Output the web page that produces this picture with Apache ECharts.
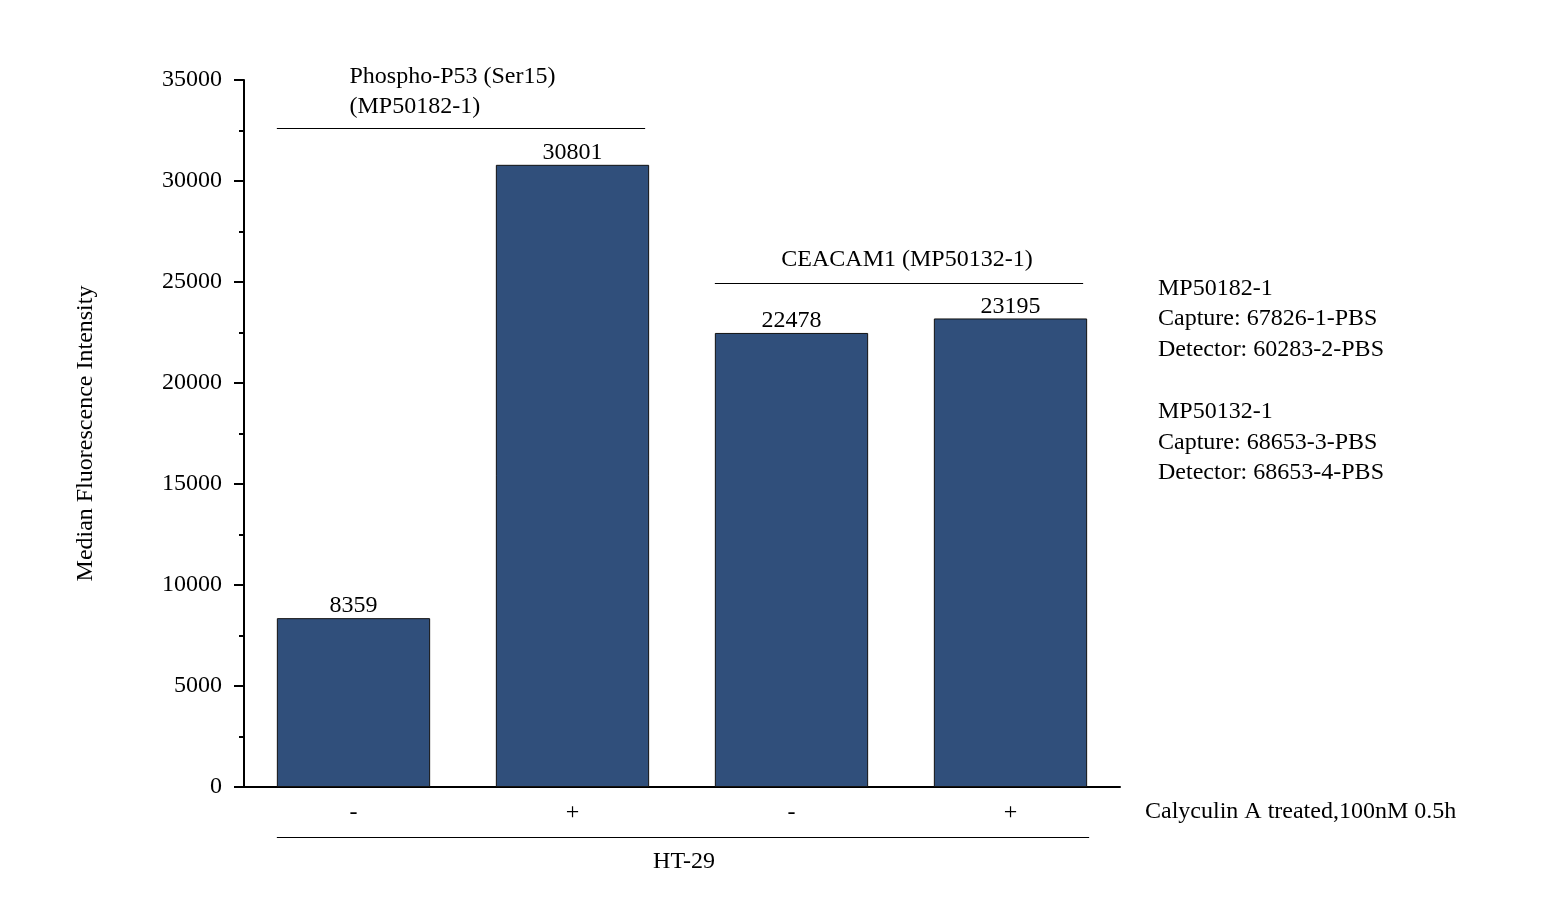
<!DOCTYPE html>
<html>
<head>
    <meta charset="utf-8">
    <title>ECharts</title>
    <script src="https://cdn.jsdelivr.net/npm/echarts@6/dist/echarts.min.js"></script>
</head>
<body style="margin:0;background:#fff;">
<div id="main" style="height: 920px; width: 1542px;"></div>
<script type="text/javascript">
    var myChart = echarts.init(document.getElementById('main'));

    // data
    var categories = ['-', '+', '-', '+'];
    var mfi = [8359, 30801, 22478, 23195];
    var yTicks = { min: 0, max: 35000, interval: 5000 };
    var groupTitles = ['Phospho-P53 (Ser15)\n(MP50182-1)', 'CEACAM1 (MP50132-1)'];
    var treatmentLabel = 'Calyculin A treated,100nM 0.5h';
    var cellLine = 'HT-29';
    var kitNotes = 'MP50182-1\nCapture: 67826-1-PBS\nDetector: 60283-2-PBS\n\nMP50132-1\nCapture: 68653-3-PBS\nDetector: 68653-4-PBS';

    var font = '"Liberation Serif", "Times New Roman", serif';
    var fs = 24;
    var barColor = '#304f7b';

    option = {
        backgroundColor: '#fff',
        animation: false,
        textStyle: { fontFamily: font },
        grid: { left: 244, right: 422, top: 80, bottom: 133 },
        xAxis: {
            type: 'category',
            data: categories,
            axisLine: { lineStyle: { color: '#000', width: 2 } },
            axisTick: { show: false },
            axisLabel: { color: '#000', fontSize: fs, fontFamily: font, margin: 14 }
        },
        yAxis: {
            type: 'value',
            min: yTicks.min,
            max: yTicks.max,
            interval: yTicks.interval,
            name: 'Median Fluorescence Intensity',
            nameLocation: 'middle',
            nameGap: 146,
            nameTextStyle: { color: '#000', fontSize: fs, fontFamily: font },
            axisLine: { show: true, lineStyle: { color: '#000', width: 2 } },
            axisTick: { show: true, length: 10, lineStyle: { color: '#000', width: 2 } },
            minorTick: { show: true, splitNumber: 2, length: 5, lineStyle: { color: '#000', width: 2 } },
            splitLine: { show: false },
            axisLabel: { color: '#000', fontSize: fs, fontFamily: font, margin: 22, formatter: function (v) { return String(v); } }
        },
        series: [{
            type: 'bar',
            data: mfi,
            barWidth: '70%',
            itemStyle: { color: barColor, borderColor: '#111', borderWidth: 1 },
            label: {
                show: true,
                position: 'top',
                distance: 0,
                color: '#000',
                fontSize: fs,
                fontFamily: font
            }
        }]
    };

    myChart.setOption(option);

    // annotations placed from axis coordinates
    function px(cat, val) { return myChart.convertToPixel({ gridIndex: 0 }, [cat, val]); }
    function crisp(y) { return Math.round(y) + 0.5; }
    var half = 0.35 * (px(1, 0)[0] - px(0, 0)[0]);
    var txt = { fill: '#000', fontSize: fs, fontFamily: font };

    var g1y = crisp(px(0, 32600)[1]), g2y = crisp(px(0, 24950)[1]);
    var xAxisY = px(0, 0)[1];
    var g3y = crisp(xAxisY + 50);
    var graphics = [
        { type: 'line', shape: { x1: px(0, 0)[0] - half, y1: g1y, x2: px(1, 0)[0] + half - 4, y2: g1y }, style: { stroke: '#000', lineWidth: 1 } },
        { type: 'text', x: px(0, 0)[0] - 4, y: g1y - 67, style: Object.assign({ text: groupTitles[0], lineHeight: 30 }, txt) },
        { type: 'line', shape: { x1: px(2, 0)[0] - half, y1: g2y, x2: px(3, 0)[0] + half - 4, y2: g2y }, style: { stroke: '#000', lineWidth: 1 } },
        { type: 'text', x: (px(2, 0)[0] + px(3, 0)[0]) / 2 + 6, y: g2y - 24, style: Object.assign({ text: groupTitles[1], align: 'center', verticalAlign: 'middle' }, txt) },
        { type: 'line', shape: { x1: px(0, 0)[0] - half, y1: g3y, x2: px(3, 0)[0] + half + 2, y2: g3y }, style: { stroke: '#000', lineWidth: 1 } },
        { type: 'text', x: (px(0, 0)[0] + px(3, 0)[0]) / 2 + 2, y: xAxisY + 75, style: Object.assign({ text: cellLine, align: 'center', verticalAlign: 'middle' }, txt) },
        { type: 'text', x: 1145, y: xAxisY + 25, style: Object.assign({ text: treatmentLabel, verticalAlign: 'middle' }, txt) },
        { type: 'text', x: 1158, y: 273, style: Object.assign({ text: kitNotes, lineHeight: 30.8 }, txt) }
    ];
    myChart.setOption({ graphic: graphics });
</script>
</body>
</html>
